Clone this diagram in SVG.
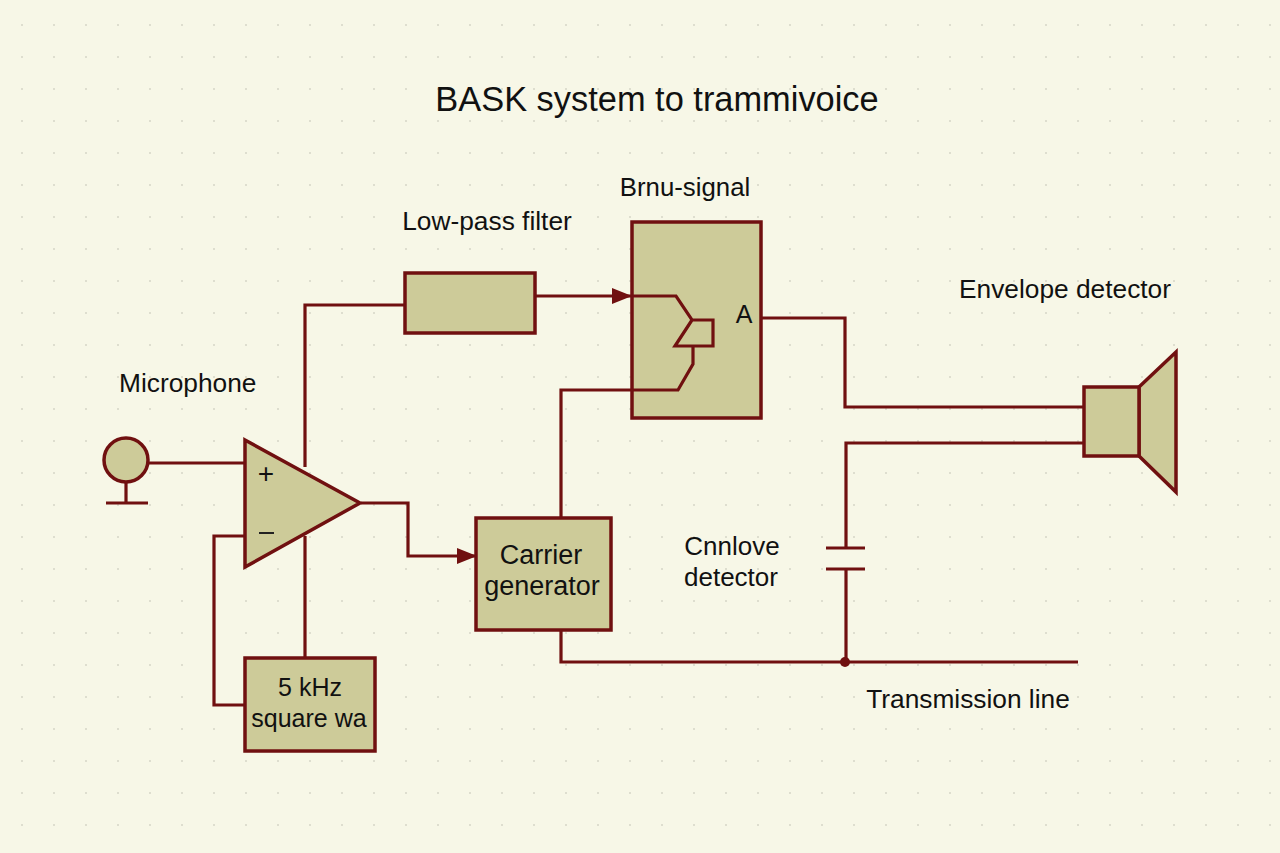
<svg xmlns="http://www.w3.org/2000/svg" width="1280" height="853" viewBox="0 0 1280 853">
<style>
text{font-family:"Liberation Sans",Arial,sans-serif;fill:#111;font-size:26.3px}
.m{text-anchor:middle}
.b{fill:#cdcb99;stroke:#701010;stroke-width:3.5;stroke-linejoin:miter}
.w{fill:none;stroke:#701010;stroke-width:3.2;stroke-linejoin:miter}
</style>
<defs>
<pattern id="dots" x="22" y="25" width="32" height="32" patternUnits="userSpaceOnUse"><rect x="-0.7" y="-0.7" width="1.4" height="1.4" fill="#c4c4b4"/><rect x="31.3" y="-0.7" width="1.4" height="1.4" fill="#c4c4b4"/><rect x="-0.7" y="31.3" width="1.4" height="1.4" fill="#c4c4b4"/><rect x="31.3" y="31.3" width="1.4" height="1.4" fill="#c4c4b4"/></pattern>
<marker id="arr" markerUnits="userSpaceOnUse" markerWidth="22" markerHeight="16" refX="20" refY="8" orient="auto"><path d="M0 0L20 8L0 16Z" fill="#701010"/></marker>
</defs>
<rect width="1280" height="853" fill="#f7f7e7"/>
<rect width="1280" height="853" fill="url(#dots)"/>
<text class="m" x="657" y="111" style="font-size:34.4px">BASK system to trammivoice</text>
<g id="connectors">
<path class="w" d="M149 463H245"/>
<path class="w" d="M305 467V305H405"/>
<path class="w" d="M535 296H632" marker-end="url(#arr)"/>
<path class="w" d="M361 503H408V556H477" marker-end="url(#arr)"/>
<path class="w" d="M245 536H214V705H245"/>
<path class="w" d="M305 536V657"/>
<path class="w" d="M561 518V390H632"/>
<path class="w" d="M761 318H845V407H1084"/>
<path class="w" d="M1084 443H846V548"/>
<path class="w" d="M846 569V662"/>
<path class="w" d="M561 630V662H1078"/>
<circle cx="845" cy="662" r="5" fill="#701010"/>
</g>
<g id="microphone"><circle class="b" cx="126" cy="460" r="22"/><path class="w" d="M126 482V503M106 503H148"/><text x="119" y="392">Microphone</text></g>
<g id="opamp"><path class="b" d="M245 440L360 503L245 567Z"/><text class="m" x="266" y="483" style="font-size:28px">+</text><path d="M259 533H274" stroke="#222" stroke-width="2"/></g>
<g id="square-wave"><rect class="b" x="245" y="658" width="130" height="93"/><text class="m" x="310" y="696" style="font-size:25px">5 kHz</text><text class="m" x="309" y="727" style="font-size:25px">square wa</text></g>
<g id="low-pass-filter"><rect class="b" x="405" y="273" width="130" height="60"/><text class="m" x="487" y="230">Low-pass filter</text></g>
<g id="carrier-generator"><rect class="b" x="476" y="518" width="135" height="112"/><text class="m" x="541" y="564" style="font-size:27px">Carrier</text><text class="m" x="542" y="595" style="font-size:27px">generator</text></g>
<g id="mixer"><rect class="b" x="632" y="222" width="129" height="196"/><path class="w" d="M632 296H676L692 320H713V346H675L692 320M693 346V364L678 390H632"/><text class="m" x="744" y="323" style="font-size:25px">A</text><text class="m" x="685" y="196" style="font-size:25.8px">Brnu-signal</text></g>
<g id="speaker"><path class="b" d="M1139 387L1176 352V492L1139 456Z"/><rect class="b" x="1084" y="387" width="55" height="69"/><text class="m" x="1065" y="298">Envelope detector</text></g>
<g id="capacitor"><path class="w" d="M826 548H865M826 569H865"/><text class="m" x="732" y="555" style="font-size:26px">Cnnlove</text><text class="m" x="731" y="586" style="font-size:26px">detector</text></g>
<g id="transmission-line"><text class="m" x="968" y="708">Transmission line</text></g>
</svg>
